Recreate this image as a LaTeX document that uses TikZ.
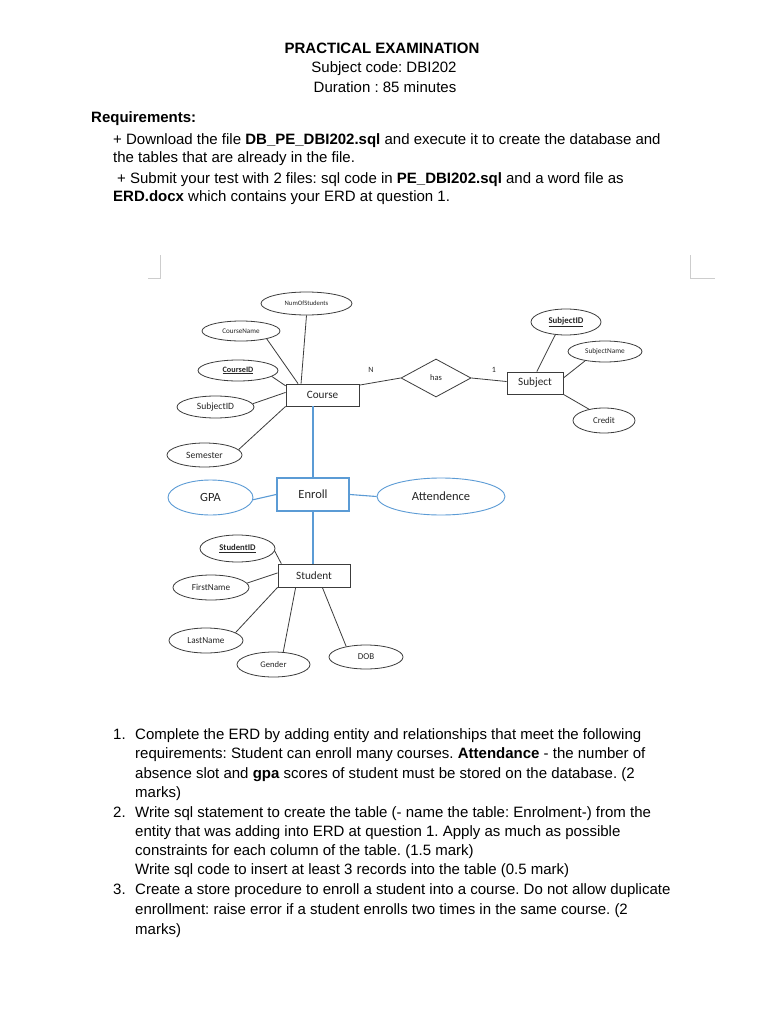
\documentclass[tikz,border=0pt]{standalone}
\usepackage{fontspec}
\setmainfont{Liberation Sans}
\newfontfamily\erdfont{Carlito}
\usetikzlibrary{shapes.geometric}
\definecolor{erdblue}{RGB}{91,155,213}
\definecolor{markgray}{RGB}{205,205,205}
\definecolor{erdline}{RGB}{60,60,60}
\frenchspacing
\begin{document}
\begin{tikzpicture}[x=1pt,y=-1pt,
  body/.style={anchor=base west,inner sep=0pt,font=\fontsize{15}{17}\selectfont},
  ctr/.style={anchor=base,inner sep=0pt,font=\fontsize{15}{17}\selectfont},
  attr/.style={ellipse,draw=erdline,line width=0.8pt,inner sep=0pt,text=black!85},
  entity/.style={rectangle,draw=erdline,line width=0.8pt,inner sep=0pt,text=black!85,font=\erdfont\fontsize{11.2}{13}\selectfont},
  relshape/.style={diamond,draw=erdline,line width=0.8pt,inner sep=0pt,aspect=1.85,text=black!85,font=\erdfont\fontsize{8.5}{10}\selectfont},
  battr/.style={ellipse,draw=erdblue,line width=0.9pt,inner sep=0pt,text=black!85,font=\erdfont\fontsize{12.5}{14}\selectfont},
  bentity/.style={rectangle,draw=erdblue,line width=1.8pt,inner sep=0pt,text=black!85,font=\erdfont\fontsize{12.5}{14}\selectfont},
  conn/.style={draw=erdline,line width=0.8pt},
  bconn/.style={draw=erdblue,line width=1.1pt},
  bconnthick/.style={draw=erdblue,line width=2.2pt},
  card/.style={inner sep=0pt,text=black!85,font=\erdfont\fontsize{8}{9}\selectfont},
  cornermark/.style={draw=markgray,line width=0.8pt}
]
\useasboundingbox (0,0) rectangle (768,1024);
\fill[white] (0,0) rectangle (768,1024);

% ---------- header ----------
\node[ctr,font=\fontsize{15}{17}\selectfont\bfseries] (title) at (382,54) {PRACTICAL EXAMINATION};
\node[ctr] (subj) at (384,73) {Subject code: DBI202};
\node[ctr] (dur) at (385,93) {Duration : 85 minutes};
\node[body,font=\fontsize{15}{17}\selectfont\bfseries] (req) at (91,123) {Requirements:};
\node[body] (r1) at (113,145) {+ Download the file \textbf{DB\_PE\_DBI202.sql} and execute it to create the database and};
\node[body] (r2) at (113,163) {the tables that are already in the file.};
\node[body] (r3) at (117,184) {+ Submit your test with 2 files: sql code in \textbf{PE\_DBI202.sql} and a word file as};
\node[body] (r4) at (113,202) {\textbf{ERD.docx} which contains your ERD at question 1.};

% ---------- page corner marks ----------
\draw[cornermark] (148,278) -- (160,278) -- (160,255);
\draw[cornermark] (690,255) -- (690,278) -- (715,278);

% ---------- ERD nodes ----------
\node[entity,minimum width=73,minimum height=22] (course) at (322.5,395) {Course};
\node[attr,minimum width=91,minimum height=23,font=\erdfont\fontsize{6.7}{8}\selectfont] (numstu) at (306.5,303.5) {NumOfStudents};
\node[attr,minimum width=78,minimum height=20,font=\erdfont\fontsize{7.1}{8}\selectfont] (cname) at (241,331) {CourseName};
\node[attr,minimum width=80,minimum height=21,font=\erdfont\fontsize{8.2}{9}\selectfont] (cid) at (238,370.5) {\underline{\textbf{CourseID}}};
\node[attr,minimum width=77,minimum height=22,font=\erdfont\fontsize{9.6}{10}\selectfont] (csid) at (215.5,407) {SubjectID};
\node[attr,minimum width=75,minimum height=24,font=\erdfont\fontsize{9.6}{10}\selectfont] (sem) at (204.5,455) {Semester};

\node[relshape,minimum width=70,minimum height=38] (has) at (436,378) {has};
\node[card] (nlab) at (371,370) {N};
\node[card] (onelab) at (494,370) {1};

\node[entity,minimum width=56,minimum height=22] (subject) at (535,383) {Subject};
\node[attr,minimum width=70,minimum height=26,font=\erdfont\fontsize{8.8}{10}\selectfont] (sid) at (566,322) {\underline{\textbf{SubjectID}}};
\node[attr,minimum width=74,minimum height=21,font=\erdfont\fontsize{7.3}{8}\selectfont] (sname) at (605,351.5) {SubjectName};
\node[attr,minimum width=62,minimum height=25,font=\erdfont\fontsize{8.9}{10}\selectfont] (credit) at (604,420.5) {Credit};

\node[bentity,minimum width=72,minimum height=33] (enroll) at (313,494.5) {Enroll};
\node[battr,minimum width=85,minimum height=35] (gpa) at (210.5,497.5) {GPA};
\node[battr,minimum width=128,minimum height=37] (att) at (441,496.5) {Attendence};

\node[entity,minimum width=72,minimum height=23] (student) at (314,575.5) {Student};
\node[attr,minimum width=75,minimum height=27,font=\erdfont\fontsize{8.7}{10}\selectfont] (stid) at (237.5,548.5) {\underline{\textbf{StudentID}}};
\node[attr,minimum width=76,minimum height=25,font=\erdfont\fontsize{9.2}{10}\selectfont] (fname) at (211,587.5) {FirstName};
\node[attr,minimum width=74,minimum height=25,font=\erdfont\fontsize{9.2}{10}\selectfont] (lname) at (206,640.5) {LastName};
\node[attr,minimum width=73,minimum height=25,font=\erdfont\fontsize{8.6}{10}\selectfont] (gender) at (273.5,664.5) {Gender};
\node[attr,minimum width=74,minimum height=24,font=\erdfont\fontsize{9}{10}\selectfont] (dob) at (366,657) {DOB};

% ---------- ERD connectors ----------
\draw[conn] (numstu.south) -- (course.152);
\draw[conn] (cname.-17) -- (course.155);
\draw[conn] (cid.-10) -- (course.166);
\draw[conn] (csid.5) -- (course.176);
\draw[conn] (sem.9) -- (course.south west);
\draw[conn] (course.15) -- (has.west);
\draw[conn] (has.east) -- (subject.177);
\draw[conn] (sid.230) -- (subject.81);
\draw[conn] (sname.205) -- (subject.10);
\draw[conn] (credit.143) -- (subject.south east);

\draw[bconn] (enroll.north) -- (enroll.north |- course.south);
\draw[bconnthick] (enroll.south) -- (enroll.south |- student.north);
\draw[bconn] (gpa.-3) -- (enroll.west);
\draw[bconn] (enroll.east) -- (att.west);

\draw[conn] (stid.-4) -- (student.160);
\draw[conn] (fname.7) -- (student.176);
\draw[conn] (lname.15) -- (student.198);
\draw[conn] (gender.52) -- (student.213);
\draw[conn] (dob.152) -- (student.305);

% ---------- questions ----------
\node[body] (n1) at (113,739) {1.};
\node[body] (q1a) at (135,739) {Complete the ERD by adding entity and relationships that meet the following};
\node[body] (q1b) at (135,758) {requirements: Student can enroll many courses. \textbf{Attendance} - the number of};
\node[body] (q1c) at (135,778) {absence slot and \textbf{gpa} scores of student must be stored on the database. (2};
\node[body] (q1d) at (135,797) {marks)};
\node[body] (n2) at (113,817) {2.};
\node[body] (q2a) at (135,817) {Write sql statement to create the table (- name the table: Enrolment-) from the};
\node[body] (q2b) at (135,836) {entity that was adding into ERD at question 1. Apply as much as possible};
\node[body] (q2c) at (135,855) {constraints for each column of the table. (1.5 mark)};
\node[body] (q2d) at (135,874) {Write sql code to insert at least 3 records into the table (0.5 mark)};
\node[body] (n3) at (113,894) {3.};
\node[body] (q3a) at (135,894) {Create a store procedure to enroll a student into a course. Do not allow duplicate};
\node[body] (q3b) at (135,914) {enrollment: raise error if a student enrolls two times in the same course. (2};
\node[body] (q3c) at (135,934) {marks)};
\end{tikzpicture}
\end{document}
